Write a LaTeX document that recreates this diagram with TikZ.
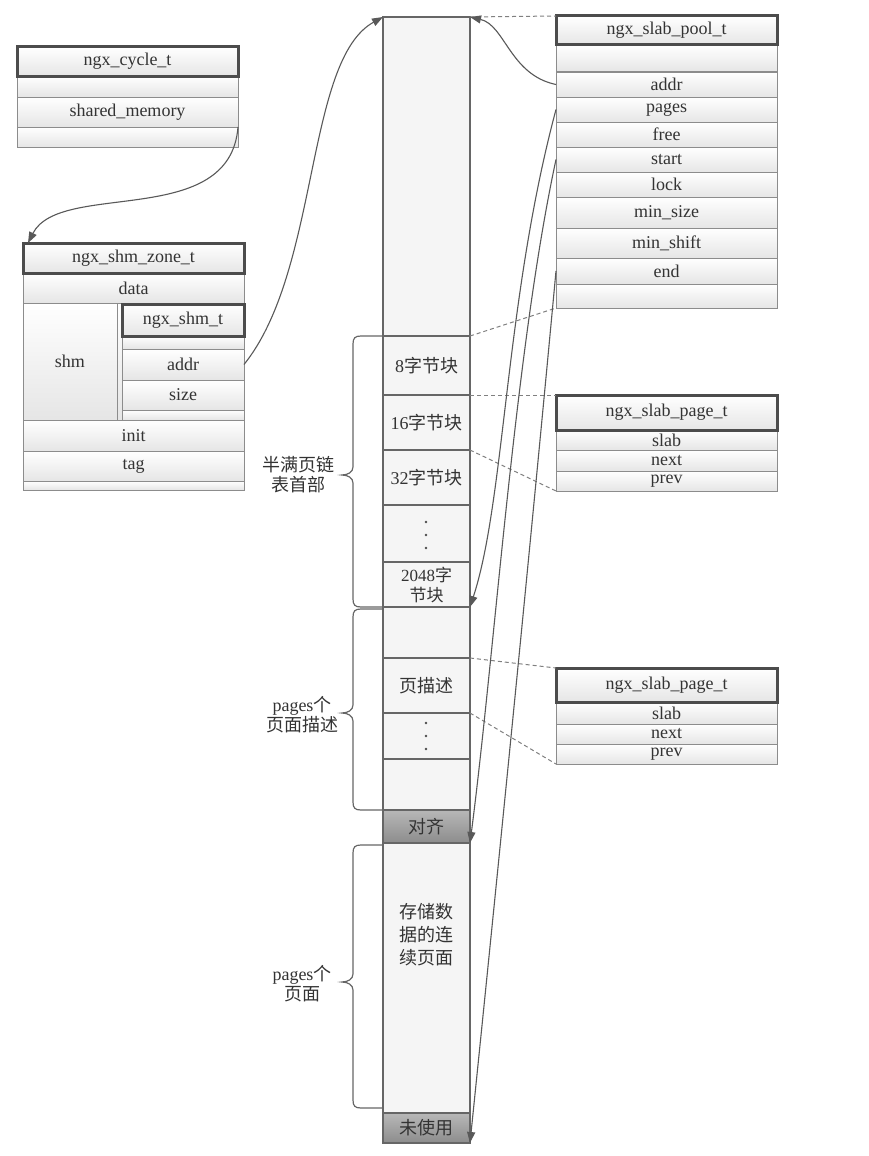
\documentclass[tikz,border=0pt]{standalone}
\usepackage{fontspec}
\setmainfont{Liberation Serif}
\newfontfamily\cjk{Noto Sans CJK SC}
\usetikzlibrary{arrows.meta}
\newcommand\zh[1]{{\cjk #1}}
\newcommand\mycell[7][]{%
  \pgfmathsetmacro\mycw{#5-#3}%
  \pgfmathsetmacro\mych{#6-#4}%
  \pgfmathsetmacro\mycx{(#3+#5)/2}%
  \pgfmathsetmacro\mycy{(#4+#6)/2}%
  \node[cellbase,#1,minimum width=\mycw pt,minimum height=\mych pt] (#2) at (\mycx,\mycy) {#7};}
\newcommand\mybrace[3]{% top, tip, bottom
  \draw[bracestyle] (383,#1) -- (361,#1) .. controls (355,#1) and (353,#1+2) .. (353,#1+8)
    -- (353,#2-8) .. controls (353,#2-3) and (348,#2) .. (342,#2)
    .. controls (348,#2) and (353,#2+3) .. (353,#2+8)
    -- (353,#3-8) .. controls (353,#3-2) and (355,#3) .. (361,#3) -- (383,#3);}
\tikzset{
  cellbase/.style={rectangle, draw=black!45, line width=1pt, inner sep=0pt, outer sep=0pt,
    align=center, text=black!80, font=\fontsize{18}{18}\selectfont},
  rowfill/.style={top color=white, bottom color=black!10},
  hdr/.style={draw=black!70, line width=3pt},
  colcell/.style={draw=black!60, line width=1.3pt, fill=black!4},
  darkcell/.style={draw=black!60, line width=1.3pt, top color=black!28, bottom color=black!45},
  conn/.style={draw=black!65, line width=1.1pt, -{Triangle[length=11pt,width=8pt]}},
  dashline/.style={draw=black!50, line width=1pt, dash pattern=on 4pt off 3pt},
  bracestyle/.style={draw=black!60, line width=1.2pt},
  lbl/.style={align=center, text=black!80, font=\fontsize{18}{18}\selectfont, inner sep=0pt}
}
\begin{document}
\begin{tikzpicture}[x=1pt,y=-1pt]
\useasboundingbox (0,0) rectangle (868,1156);
\fill[white] (0,0) rectangle (868,1156);

% ngx_cycle_t
\mycell[rowfill]{cyc1}{17}{76}{238}{97}{}
\mycell[rowfill]{cycshm}{17}{97}{238}{127}{shared\_memory}
\mycell[rowfill]{cyc3}{17}{127}{238}{147}{}
\mycell[rowfill,hdr]{cych}{17}{47}{238}{76}{ngx\_cycle\_t}

% ngx_shm_zone_t
\mycell[rowfill]{zdata}{23}{273}{244}{303}{data}
\mycell[rowfill]{zshm}{23}{303}{244}{420}{}
\mycell[rowfill]{zshmL}{23}{303}{117}{420}{shm}
\mycell[rowfill]{shm1}{122}{336}{244}{349}{}
\mycell[rowfill]{shmaddr}{122}{349}{244}{380}{addr}
\mycell[rowfill]{shmsize}{122}{380}{244}{410}{size}
\mycell[rowfill]{shm4}{122}{410}{244}{420}{}
\mycell[rowfill,hdr]{shmh}{122}{304}{244}{336}{ngx\_shm\_t}
\mycell[rowfill]{zinit}{23}{420}{244}{451}{init}
\mycell[rowfill]{ztag}{23}{451}{244}{481}{tag}
\mycell[rowfill]{zend}{23}{481}{244}{490}{}
\mycell[rowfill,hdr]{zoneh}{23}{243}{244}{273}{ngx\_shm\_zone\_t}

% ngx_slab_pool_t
\mycell[rowfill]{pool1}{556}{45}{777}{72}{}
\mycell[rowfill]{pooladdr}{556}{72}{777}{97}{addr}
\mycell[rowfill]{poolpages}{556}{97}{777}{122}{pages}
\mycell[rowfill]{poolfree}{556}{122}{777}{147}{free}
\mycell[rowfill]{poolstart}{556}{147}{777}{172}{start}
\mycell[rowfill]{poollock}{556}{172}{777}{197}{lock}
\mycell[rowfill]{poolminsize}{556}{197}{777}{228}{min\_size}
\mycell[rowfill]{poolminshift}{556}{228}{777}{258}{min\_shift}
\mycell[rowfill]{poolend}{556}{258}{777}{284}{end}
\mycell[rowfill]{poollast}{556}{284}{777}{308}{}
\mycell[rowfill,hdr]{poolh}{556}{16}{777}{45}{ngx\_slab\_pool\_t}

% ngx_slab_page_t 1
\mycell[rowfill]{pgaslab}{556}{430}{777}{450}{slab}
\mycell[rowfill]{pganext}{556}{450}{777}{471}{next}
\mycell[rowfill]{pgaprev}{556}{471}{777}{491}{prev}
\mycell[rowfill,hdr]{pgah}{556}{395}{777}{430}{ngx\_slab\_page\_t}

% ngx_slab_page_t 2
\mycell[rowfill]{pgbslab}{556}{702}{777}{724}{slab}
\mycell[rowfill]{pgbnext}{556}{724}{777}{744}{next}
\mycell[rowfill]{pgbprev}{556}{744}{777}{764}{prev}
\mycell[rowfill,hdr]{pgbh}{556}{668}{777}{702}{ngx\_slab\_page\_t}

% main column
\mycell[colcell]{col0}{383}{17}{470}{336}{}
\mycell[colcell]{c8}{383}{336}{470}{395}{8\zh{字节块}}
\mycell[colcell]{c16}{383}{395}{470}{450}{16\zh{字节块}}
\mycell[colcell]{c32}{383}{450}{470}{505}{32\zh{字节块}}
\mycell[colcell]{cdotsa}{383}{505}{470}{562}{}
\mycell[colcell,font=\fontsize{17}{20}\selectfont]{c2048}{383}{562}{470}{607}{2048\zh{字}\\\zh{节块}}
\mycell[colcell]{p0}{383}{607}{470}{658}{}
\mycell[colcell]{pdesc}{383}{658}{470}{713}{\zh{页描述}}
\mycell[colcell]{pdots}{383}{713}{470}{759}{}
\mycell[colcell]{p3}{383}{759}{470}{810}{}
\mycell[darkcell]{calign}{383}{810}{470}{843}{\zh{对齐}}
\mycell[colcell]{cdata}{383}{843}{470}{1113}{}
\mycell[darkcell]{cunused}{383}{1113}{470}{1143}{\zh{未使用}}
\node[lbl, font=\fontsize{18}{23}\selectfont] (datatext) at (426,935) {\zh{存储数}\\\zh{据的连}\\\zh{续页面}};
\foreach \y in {522,535,548} \fill[black!70] (426,\y) circle (1.3pt);
\foreach \y in {723,736,749} \fill[black!70] (426,\y) circle (1.3pt);

% braces and labels
\mybrace{336}{475}{607}
\mybrace{609}{713}{810}
\mybrace{845}{982}{1108}
\node[lbl, font=\fontsize{18}{20}\selectfont] (lblhalf) at (298,475) {\zh{半满页链}\\\zh{表首部}};
\node[lbl, font=\fontsize{18}{20}\selectfont] (lblpdesc) at (302,715) {pages\zh{个}\\\zh{页面描述}};
\node[lbl, font=\fontsize{18}{20}\selectfont] (lblpages) at (302,984) {pages\zh{个}\\\zh{页面}};

% dashed links
\draw[dashline] (col0.north east) -- (poolh.north west);
\draw[dashline] (c8.north east) -- (poollast.south west);
\draw[dashline] (c16.north east) -- (pgah.north west);
\draw[dashline] (c32.north east) -- (pgaprev.south west);
\draw[dashline] (pdesc.north east) -- (pgbh.north west);
\draw[dashline] (pdots.north east) -- (pgbprev.south west);

% arrows
\draw[conn] (cycshm.south east) .. controls (230,230) and (60,180) .. ([xshift=5pt]zoneh.north west);
\draw[conn] (shmaddr.east) .. controls (320,270) and (305,60) .. (col0.north west);
\draw[conn] (pooladdr.west) .. controls (510,75) and (505,25) .. (col0.north east);
\draw[conn] (poolpages.west) .. controls (505,300) and (505,500) .. (c2048.south east);
\draw[conn] (poolstart.west) .. controls (515,350) and (495,650) .. (calign.south east);
\draw[conn] (poolend.west) .. controls (530,550) and (500,850) .. (cunused.south east);
\end{tikzpicture}
\end{document}
